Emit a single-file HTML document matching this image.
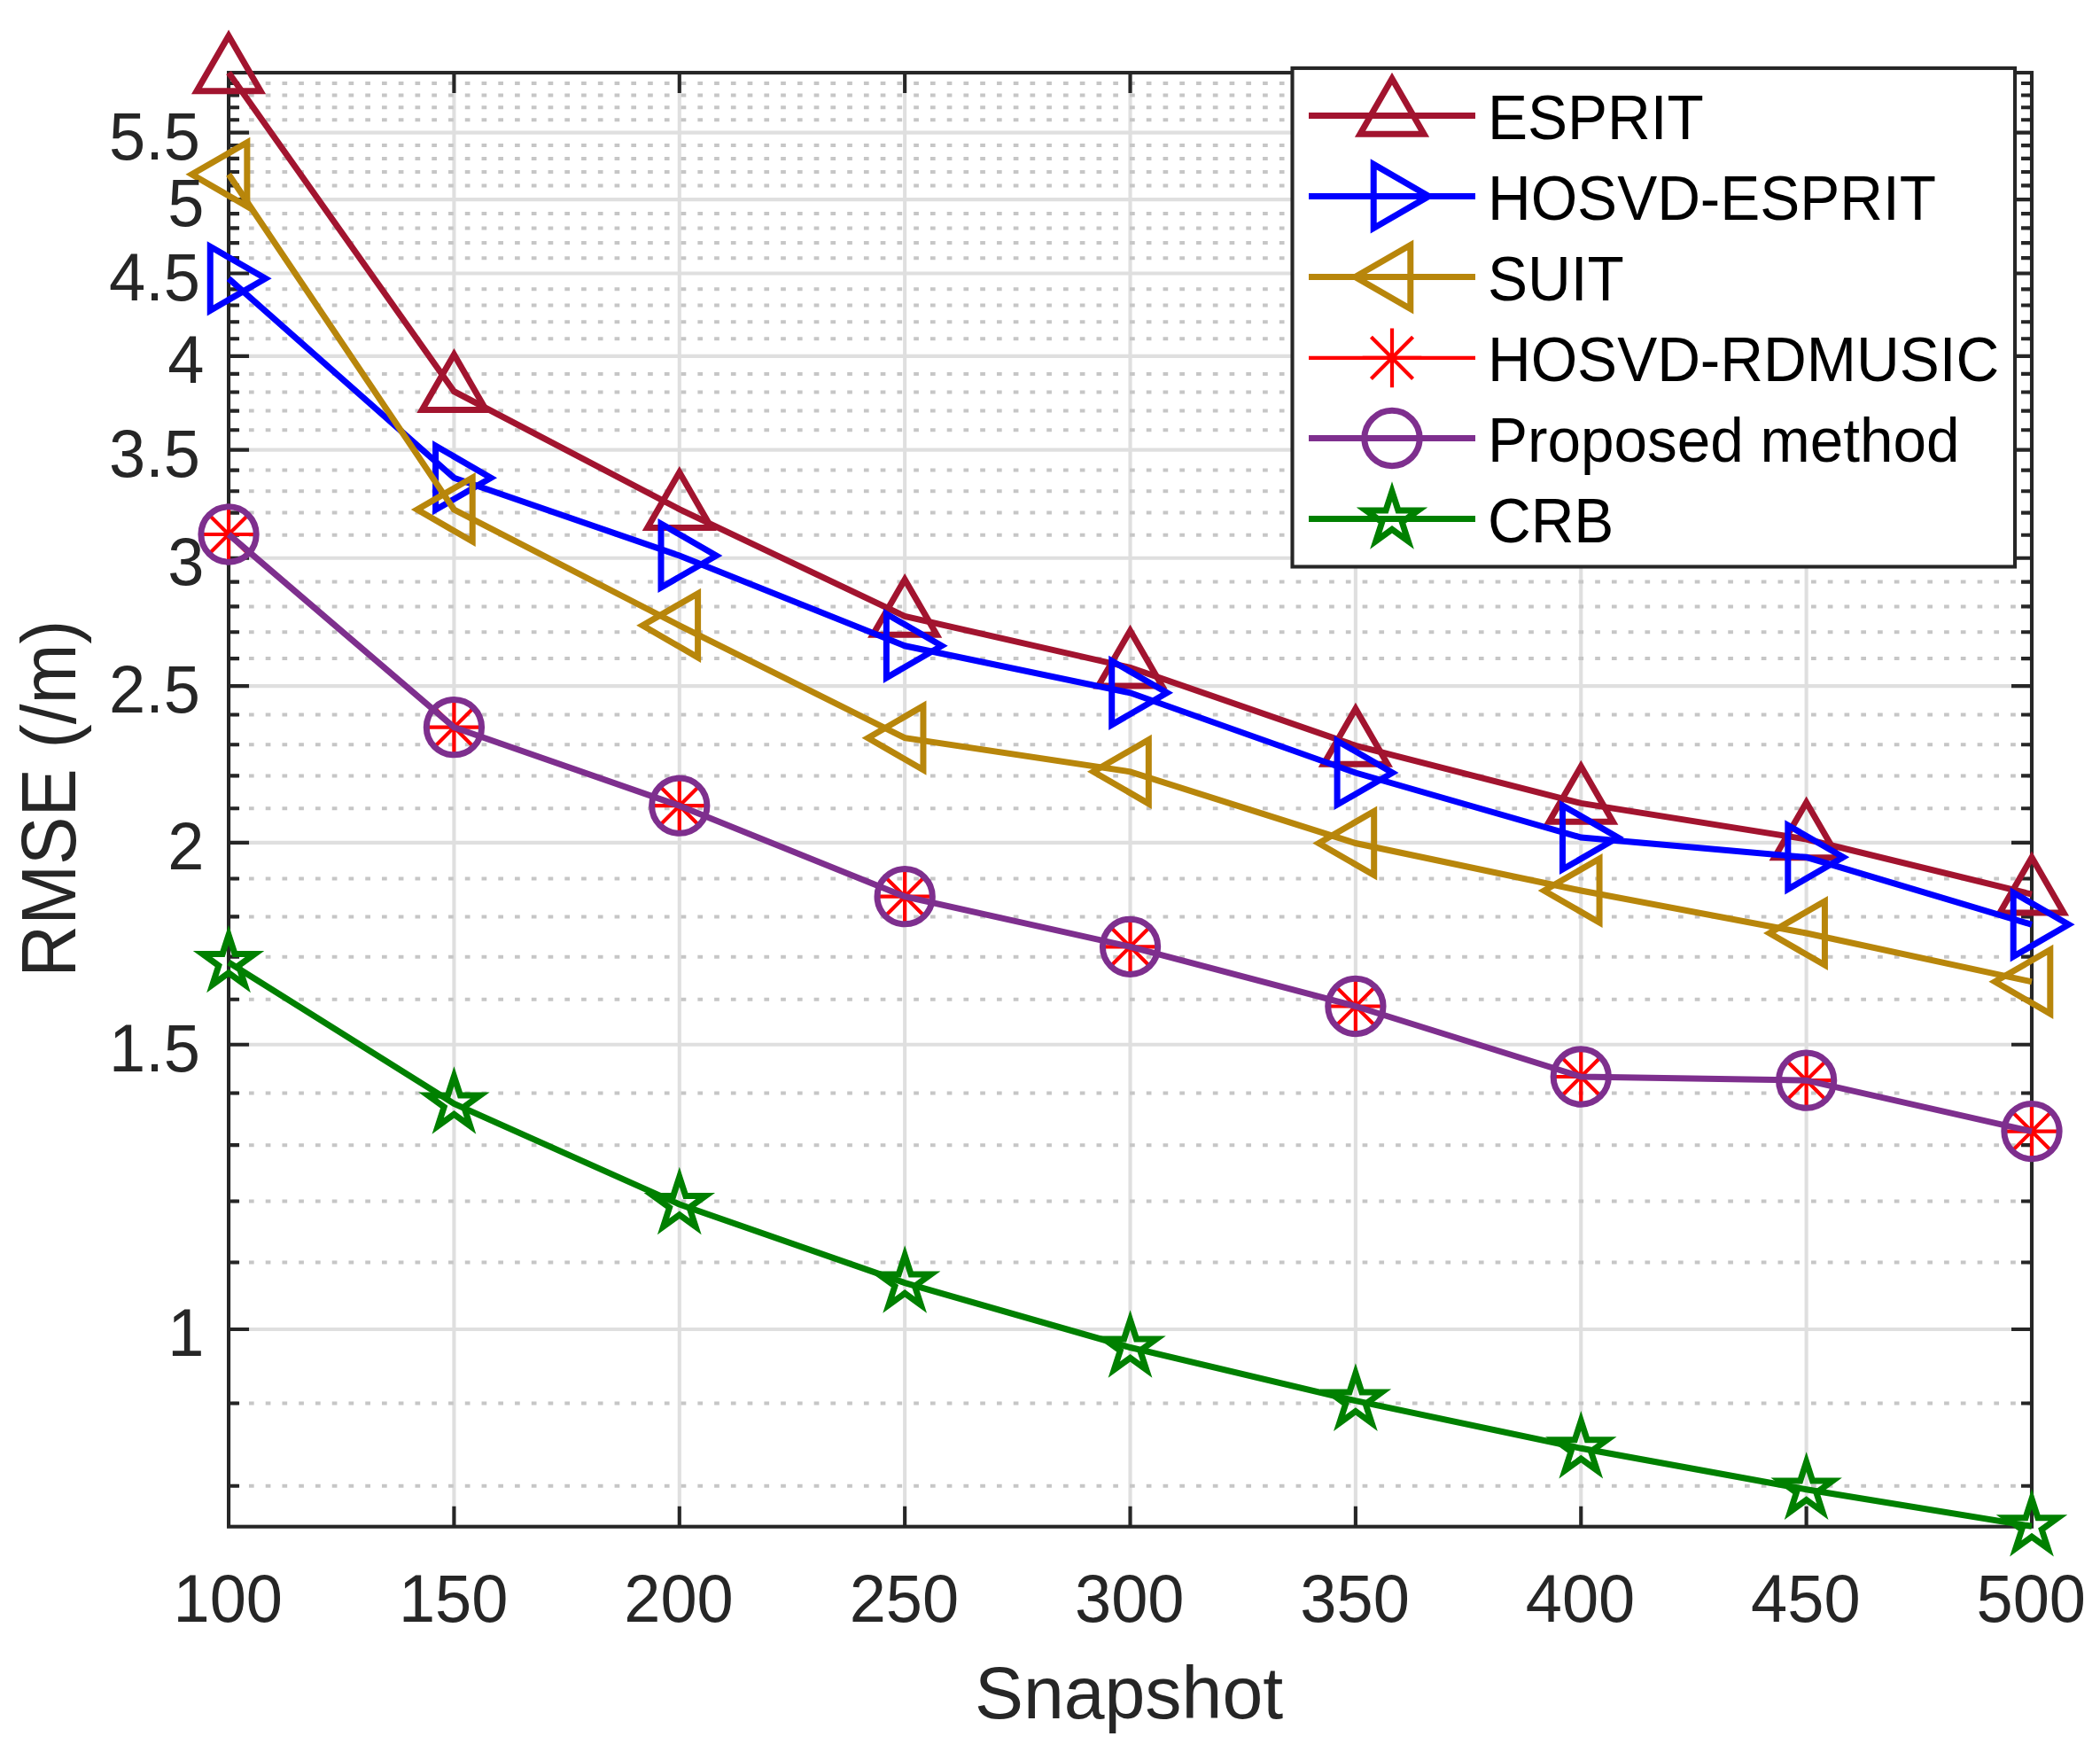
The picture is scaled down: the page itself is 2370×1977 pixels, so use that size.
<!DOCTYPE html>
<html lang="en">
<head>
<meta charset="utf-8">
<title>RMSE versus Snapshot</title>
<style>
html,body{margin:0;padding:0;background:#fff;}
body{width:2370px;height:1977px;overflow:hidden;}
svg{display:block;}
text{white-space:pre;}
</style>
</head>
<body>
<svg width="2370" height="1977" viewBox="0 0 2370 1977">
<rect width="2370" height="1977" fill="#fff"/>
<g stroke="#dfdfdf" stroke-width="4.1" fill="none">
<path d="M512.42 82V1722.7"/>
<path d="M766.79 82V1722.7"/>
<path d="M1021.16 82V1722.7"/>
<path d="M1275.53 82V1722.7"/>
<path d="M1529.89 82V1722.7"/>
<path d="M1784.26 82V1722.7"/>
<path d="M2038.63 82V1722.7"/>
<path d="M258.05 1500H2293"/>
<path d="M258.05 1178.81H2293"/>
<path d="M258.05 950.92H2293"/>
<path d="M258.05 774.16H2293"/>
<path d="M258.05 629.73H2293"/>
<path d="M258.05 507.62H2293"/>
<path d="M258.05 401.84H2293"/>
<path d="M258.05 308.54H2293"/>
<path d="M258.05 225.08H2293"/>
<path d="M258.05 149.58H2293"/>
</g>
<g stroke="#c6c6c6" stroke-width="4" fill="none" stroke-dasharray="5.7 13.056">
<path d="M262.2 1676.76H2293"/>
<path d="M262.2 1583.46H2293"/>
<path d="M262.2 1424.5H2293"/>
<path d="M262.2 1355.57H2293"/>
<path d="M262.2 1292.17H2293"/>
<path d="M262.2 1233.46H2293"/>
<path d="M262.2 1127.69H2293"/>
<path d="M262.2 1079.66H2293"/>
<path d="M262.2 1034.38H2293"/>
<path d="M262.2 991.55H2293"/>
<path d="M262.2 912.27H2293"/>
<path d="M262.2 875.42H2293"/>
<path d="M262.2 840.21H2293"/>
<path d="M262.2 806.49H2293"/>
<path d="M262.2 743.09H2293"/>
<path d="M262.2 713.19H2293"/>
<path d="M262.2 684.38H2293"/>
<path d="M262.2 656.59H2293"/>
<path d="M262.2 603.76H2293"/>
<path d="M262.2 578.61H2293"/>
<path d="M262.2 554.23H2293"/>
<path d="M262.2 530.58H2293"/>
<path d="M262.2 485.3H2293"/>
<path d="M262.2 463.6H2293"/>
<path d="M262.2 442.47H2293"/>
<path d="M262.2 421.9H2293"/>
<path d="M262.2 382.28H2293"/>
<path d="M262.2 363.19H2293"/>
<path d="M262.2 344.55H2293"/>
<path d="M262.2 326.34H2293"/>
<path d="M262.2 291.13H2293"/>
<path d="M262.2 274.09H2293"/>
<path d="M262.2 257.42H2293"/>
<path d="M262.2 241.08H2293"/>
<path d="M262.2 209.39H2293"/>
<path d="M262.2 194.01H2293"/>
<path d="M262.2 178.92H2293"/>
<path d="M262.2 164.11H2293"/>
<path d="M262.2 135.31H2293"/>
<path d="M262.2 121.28H2293"/>
<path d="M262.2 107.51H2293"/>
<path d="M262.2 93.97H2293"/>
</g>
<g stroke="#262626" stroke-width="4.1" fill="none">
<rect x="258.05" y="82" width="2034.95" height="1640.7"/>
<path d="M512.42 1722.7V1699.7 M512.42 82V105"/>
<path d="M766.79 1722.7V1699.7 M766.79 82V105"/>
<path d="M1021.16 1722.7V1699.7 M1021.16 82V105"/>
<path d="M1275.53 1722.7V1699.7 M1275.53 82V105"/>
<path d="M1529.89 1722.7V1699.7 M1529.89 82V105"/>
<path d="M1784.26 1722.7V1699.7 M1784.26 82V105"/>
<path d="M2038.63 1722.7V1699.7 M2038.63 82V105"/>
<path d="M258.05 1500H281.05 M2293 1500H2270"/>
<path d="M258.05 1178.81H281.05 M2293 1178.81H2270"/>
<path d="M258.05 950.92H281.05 M2293 950.92H2270"/>
<path d="M258.05 774.16H281.05 M2293 774.16H2270"/>
<path d="M258.05 629.73H281.05 M2293 629.73H2270"/>
<path d="M258.05 507.62H281.05 M2293 507.62H2270"/>
<path d="M258.05 401.84H281.05 M2293 401.84H2270"/>
<path d="M258.05 308.54H281.05 M2293 308.54H2270"/>
<path d="M258.05 225.08H281.05 M2293 225.08H2270"/>
<path d="M258.05 149.58H281.05 M2293 149.58H2270"/>
<path d="M258.05 1676.76H270.05 M2293 1676.76H2281 M258.05 1583.46H270.05 M2293 1583.46H2281 M258.05 1424.5H270.05 M2293 1424.5H2281 M258.05 1355.57H270.05 M2293 1355.57H2281 M258.05 1292.17H270.05 M2293 1292.17H2281 M258.05 1233.46H270.05 M2293 1233.46H2281 M258.05 1127.69H270.05 M2293 1127.69H2281 M258.05 1079.66H270.05 M2293 1079.66H2281 M258.05 1034.38H270.05 M2293 1034.38H2281 M258.05 991.55H270.05 M2293 991.55H2281 M258.05 912.27H270.05 M2293 912.27H2281 M258.05 875.42H270.05 M2293 875.42H2281 M258.05 840.21H270.05 M2293 840.21H2281 M258.05 806.49H270.05 M2293 806.49H2281 M258.05 743.09H270.05 M2293 743.09H2281 M258.05 713.19H270.05 M2293 713.19H2281 M258.05 684.38H270.05 M2293 684.38H2281 M258.05 656.59H270.05 M2293 656.59H2281 M258.05 603.76H270.05 M2293 603.76H2281 M258.05 578.61H270.05 M2293 578.61H2281 M258.05 554.23H270.05 M2293 554.23H2281 M258.05 530.58H270.05 M2293 530.58H2281 M258.05 485.3H270.05 M2293 485.3H2281 M258.05 463.6H270.05 M2293 463.6H2281 M258.05 442.47H270.05 M2293 442.47H2281 M258.05 421.9H270.05 M2293 421.9H2281 M258.05 382.28H270.05 M2293 382.28H2281 M258.05 363.19H270.05 M2293 363.19H2281 M258.05 344.55H270.05 M2293 344.55H2281 M258.05 326.34H270.05 M2293 326.34H2281 M258.05 291.13H270.05 M2293 291.13H2281 M258.05 274.09H270.05 M2293 274.09H2281 M258.05 257.42H270.05 M2293 257.42H2281 M258.05 241.08H270.05 M2293 241.08H2281 M258.05 209.39H270.05 M2293 209.39H2281 M258.05 194.01H270.05 M2293 194.01H2281 M258.05 178.92H270.05 M2293 178.92H2281 M258.05 164.11H270.05 M2293 164.11H2281 M258.05 135.31H270.05 M2293 135.31H2281 M258.05 121.28H270.05 M2293 121.28H2281 M258.05 107.51H270.05 M2293 107.51H2281 M258.05 93.97H270.05 M2293 93.97H2281"/>
</g>
<g>
<polyline points="258.05,82 512.42,441.7 766.79,574.6 1021.16,695.5 1275.53,753.3 1529.89,841.4 1784.26,906.4 2038.63,947 2293,1009.2" fill="none" stroke="#a2142f" stroke-width="7.0" stroke-linejoin="miter"/>
<path d="M258.05 40.4 L294.08 102.8 L222.02 102.8Z" fill="none" stroke="#a2142f" stroke-width="7.0"/>
<path d="M512.42 400.1 L548.45 462.5 L476.39 462.5Z" fill="none" stroke="#a2142f" stroke-width="7.0"/>
<path d="M766.79 533 L802.81 595.4 L730.76 595.4Z" fill="none" stroke="#a2142f" stroke-width="7.0"/>
<path d="M1021.16 653.9 L1057.18 716.3 L985.13 716.3Z" fill="none" stroke="#a2142f" stroke-width="7.0"/>
<path d="M1275.53 711.7 L1311.55 774.1 L1239.5 774.1Z" fill="none" stroke="#a2142f" stroke-width="7.0"/>
<path d="M1529.89 799.8 L1565.92 862.2 L1493.87 862.2Z" fill="none" stroke="#a2142f" stroke-width="7.0"/>
<path d="M1784.26 864.8 L1820.29 927.2 L1748.24 927.2Z" fill="none" stroke="#a2142f" stroke-width="7.0"/>
<path d="M2038.63 905.4 L2074.66 967.8 L2002.6 967.8Z" fill="none" stroke="#a2142f" stroke-width="7.0"/>
<path d="M2293 967.6 L2329.03 1030 L2256.97 1030Z" fill="none" stroke="#a2142f" stroke-width="7.0"/>
</g>
<g>
<polyline points="258.05,314.3 512.42,539.2 766.79,627 1021.16,728.8 1275.53,781.8 1529.89,872 1784.26,945 2038.63,967.3 2293,1043.3" fill="none" stroke="#0000ff" stroke-width="7.0" stroke-linejoin="miter"/>
<path d="M299.65 314.3 L237.25 350.33 L237.25 278.27Z" fill="none" stroke="#0000ff" stroke-width="7.0"/>
<path d="M554.02 539.2 L491.62 575.23 L491.62 503.17Z" fill="none" stroke="#0000ff" stroke-width="7.0"/>
<path d="M808.39 627 L745.99 663.03 L745.99 590.97Z" fill="none" stroke="#0000ff" stroke-width="7.0"/>
<path d="M1062.76 728.8 L1000.36 764.83 L1000.36 692.77Z" fill="none" stroke="#0000ff" stroke-width="7.0"/>
<path d="M1317.12 781.8 L1254.73 817.83 L1254.73 745.77Z" fill="none" stroke="#0000ff" stroke-width="7.0"/>
<path d="M1571.49 872 L1509.09 908.03 L1509.09 835.97Z" fill="none" stroke="#0000ff" stroke-width="7.0"/>
<path d="M1825.86 945 L1763.46 981.03 L1763.46 908.97Z" fill="none" stroke="#0000ff" stroke-width="7.0"/>
<path d="M2080.23 967.3 L2017.83 1003.33 L2017.83 931.27Z" fill="none" stroke="#0000ff" stroke-width="7.0"/>
<path d="M2334.6 1043.3 L2272.2 1079.33 L2272.2 1007.27Z" fill="none" stroke="#0000ff" stroke-width="7.0"/>
</g>
<g>
<polyline points="258.05,196.8 512.42,575 766.79,705.8 1021.16,832.7 1275.53,870.8 1529.89,951.5 1784.26,1005 2038.63,1053 2293,1107.8" fill="none" stroke="#b8860b" stroke-width="7.0" stroke-linejoin="miter"/>
<path d="M216.45 196.8 L278.85 160.77 L278.85 232.83Z" fill="none" stroke="#b8860b" stroke-width="7.0"/>
<path d="M470.82 575 L533.22 538.97 L533.22 611.03Z" fill="none" stroke="#b8860b" stroke-width="7.0"/>
<path d="M725.19 705.8 L787.59 669.77 L787.59 741.83Z" fill="none" stroke="#b8860b" stroke-width="7.0"/>
<path d="M979.56 832.7 L1041.96 796.67 L1041.96 868.73Z" fill="none" stroke="#b8860b" stroke-width="7.0"/>
<path d="M1233.93 870.8 L1296.33 834.77 L1296.33 906.83Z" fill="none" stroke="#b8860b" stroke-width="7.0"/>
<path d="M1488.29 951.5 L1550.69 915.47 L1550.69 987.53Z" fill="none" stroke="#b8860b" stroke-width="7.0"/>
<path d="M1742.66 1005 L1805.06 968.97 L1805.06 1041.03Z" fill="none" stroke="#b8860b" stroke-width="7.0"/>
<path d="M1997.03 1053 L2059.43 1016.97 L2059.43 1089.03Z" fill="none" stroke="#b8860b" stroke-width="7.0"/>
<path d="M2251.4 1107.8 L2313.8 1071.77 L2313.8 1143.83Z" fill="none" stroke="#b8860b" stroke-width="7.0"/>
</g>
<g>
<polyline points="258.05,603 512.42,820.7 766.79,909.2 1021.16,1011.7 1275.53,1068.3 1529.89,1135.5 1784.26,1215 2038.63,1219.2 2293,1276.6" fill="none" stroke="#ff0000" stroke-width="4.2" stroke-linejoin="miter"/>
<path d="M224.75 603H291.35 M258.05 569.7V636.3 M234.5 579.45L281.6 626.55 M234.5 626.55L281.6 579.45" fill="none" stroke="#ff0000" stroke-width="4.2"/>
<path d="M479.12 820.7H545.72 M512.42 787.4V854 M488.87 797.15L535.97 844.25 M488.87 844.25L535.97 797.15" fill="none" stroke="#ff0000" stroke-width="4.2"/>
<path d="M733.49 909.2H800.09 M766.79 875.9V942.5 M743.24 885.65L790.33 932.75 M743.24 932.75L790.33 885.65" fill="none" stroke="#ff0000" stroke-width="4.2"/>
<path d="M987.86 1011.7H1054.46 M1021.16 978.4V1045 M997.61 988.15L1044.7 1035.25 M997.61 1035.25L1044.7 988.15" fill="none" stroke="#ff0000" stroke-width="4.2"/>
<path d="M1242.23 1068.3H1308.83 M1275.53 1035V1101.6 M1251.98 1044.75L1299.07 1091.85 M1251.98 1091.85L1299.07 1044.75" fill="none" stroke="#ff0000" stroke-width="4.2"/>
<path d="M1496.59 1135.5H1563.19 M1529.89 1102.2V1168.8 M1506.35 1111.95L1553.44 1159.05 M1506.35 1159.05L1553.44 1111.95" fill="none" stroke="#ff0000" stroke-width="4.2"/>
<path d="M1750.96 1215H1817.56 M1784.26 1181.7V1248.3 M1760.72 1191.45L1807.81 1238.55 M1760.72 1238.55L1807.81 1191.45" fill="none" stroke="#ff0000" stroke-width="4.2"/>
<path d="M2005.33 1219.2H2071.93 M2038.63 1185.9V1252.5 M2015.08 1195.65L2062.18 1242.75 M2015.08 1242.75L2062.18 1195.65" fill="none" stroke="#ff0000" stroke-width="4.2"/>
<path d="M2259.7 1276.6H2326.3 M2293 1243.3V1309.9 M2269.45 1253.05L2316.55 1300.15 M2269.45 1300.15L2316.55 1253.05" fill="none" stroke="#ff0000" stroke-width="4.2"/>
</g>
<g>
<polyline points="258.05,603 512.42,820.7 766.79,909.2 1021.16,1011.7 1275.53,1068.3 1529.89,1135.5 1784.26,1215 2038.63,1219.2 2293,1276.6" fill="none" stroke="#7e2f8e" stroke-width="7.0" stroke-linejoin="miter"/>
<circle cx="258.05" cy="603" r="31.15" fill="none" stroke="#7e2f8e" stroke-width="7.0"/>
<circle cx="512.42" cy="820.7" r="31.15" fill="none" stroke="#7e2f8e" stroke-width="7.0"/>
<circle cx="766.79" cy="909.2" r="31.15" fill="none" stroke="#7e2f8e" stroke-width="7.0"/>
<circle cx="1021.16" cy="1011.7" r="31.15" fill="none" stroke="#7e2f8e" stroke-width="7.0"/>
<circle cx="1275.53" cy="1068.3" r="31.15" fill="none" stroke="#7e2f8e" stroke-width="7.0"/>
<circle cx="1529.89" cy="1135.5" r="31.15" fill="none" stroke="#7e2f8e" stroke-width="7.0"/>
<circle cx="1784.26" cy="1215" r="31.15" fill="none" stroke="#7e2f8e" stroke-width="7.0"/>
<circle cx="2038.63" cy="1219.2" r="31.15" fill="none" stroke="#7e2f8e" stroke-width="7.0"/>
<circle cx="2293" cy="1276.6" r="31.15" fill="none" stroke="#7e2f8e" stroke-width="7.0"/>
</g>
<g>
<polyline points="258.05,1086 512.42,1245.5 766.79,1359 1021.16,1447.6 1275.53,1520.5 1529.89,1580.7 1784.26,1634.3 2038.63,1680.7 2293,1722.3" fill="none" stroke="#008000" stroke-width="7.0" stroke-linejoin="miter"/>
<path d="M258.05 1055 L265.01 1076.42 L287.53 1076.42 L269.31 1089.66 L276.27 1111.08 L258.05 1097.84 L239.83 1111.08 L246.79 1089.66 L228.57 1076.42 L251.09 1076.42Z" fill="none" stroke="#008000" stroke-width="7.0"/>
<path d="M512.42 1214.5 L519.38 1235.92 L541.9 1235.92 L523.68 1249.16 L530.64 1270.58 L512.42 1257.34 L494.2 1270.58 L501.16 1249.16 L482.94 1235.92 L505.46 1235.92Z" fill="none" stroke="#008000" stroke-width="7.0"/>
<path d="M766.79 1328 L773.75 1349.42 L796.27 1349.42 L778.05 1362.66 L785.01 1384.08 L766.79 1370.84 L748.57 1384.08 L755.53 1362.66 L737.3 1349.42 L759.83 1349.42Z" fill="none" stroke="#008000" stroke-width="7.0"/>
<path d="M1021.16 1416.6 L1028.12 1438.02 L1050.64 1438.02 L1032.42 1451.26 L1039.38 1472.68 L1021.16 1459.44 L1002.93 1472.68 L1009.89 1451.26 L991.67 1438.02 L1014.2 1438.02Z" fill="none" stroke="#008000" stroke-width="7.0"/>
<path d="M1275.53 1489.5 L1282.48 1510.92 L1305.01 1510.92 L1286.79 1524.16 L1293.75 1545.58 L1275.53 1532.34 L1257.3 1545.58 L1264.26 1524.16 L1246.04 1510.92 L1268.57 1510.92Z" fill="none" stroke="#008000" stroke-width="7.0"/>
<path d="M1529.89 1549.7 L1536.85 1571.12 L1559.38 1571.12 L1541.16 1584.36 L1548.12 1605.78 L1529.89 1592.54 L1511.67 1605.78 L1518.63 1584.36 L1500.41 1571.12 L1522.93 1571.12Z" fill="none" stroke="#008000" stroke-width="7.0"/>
<path d="M1784.26 1603.3 L1791.22 1624.72 L1813.75 1624.72 L1795.52 1637.96 L1802.48 1659.38 L1784.26 1646.14 L1766.04 1659.38 L1773 1637.96 L1754.78 1624.72 L1777.3 1624.72Z" fill="none" stroke="#008000" stroke-width="7.0"/>
<path d="M2038.63 1649.7 L2045.59 1671.12 L2068.11 1671.12 L2049.89 1684.36 L2056.85 1705.78 L2038.63 1692.54 L2020.41 1705.78 L2027.37 1684.36 L2009.15 1671.12 L2031.67 1671.12Z" fill="none" stroke="#008000" stroke-width="7.0"/>
<path d="M2293 1691.3 L2299.96 1712.72 L2322.48 1712.72 L2304.26 1725.96 L2311.22 1747.38 L2293 1734.14 L2274.78 1747.38 L2281.74 1725.96 L2263.52 1712.72 L2286.04 1712.72Z" fill="none" stroke="#008000" stroke-width="7.0"/>
</g>
<g font-family="'Liberation Sans', Arial, Helvetica, sans-serif" font-size="74.0" fill="#262626">
<text transform="translate(257.25 1829.8) scale(1 1.02)" text-anchor="middle">100</text>
<text transform="translate(511.62 1829.8) scale(1 1.02)" text-anchor="middle">150</text>
<text transform="translate(765.99 1829.8) scale(1 1.02)" text-anchor="middle">200</text>
<text transform="translate(1020.36 1829.8) scale(1 1.02)" text-anchor="middle">250</text>
<text transform="translate(1274.73 1829.8) scale(1 1.02)" text-anchor="middle">300</text>
<text transform="translate(1529.09 1829.8) scale(1 1.02)" text-anchor="middle">350</text>
<text transform="translate(1783.46 1829.8) scale(1 1.02)" text-anchor="middle">400</text>
<text transform="translate(2037.83 1829.8) scale(1 1.02)" text-anchor="middle">450</text>
<text transform="translate(2292.2 1829.8) scale(1 1.02)" text-anchor="middle">500</text>
<text transform="translate(230.3 1530.3) scale(1 1.02)" text-anchor="end">1</text>
<text transform="translate(225.9 1209.11) scale(1 1.02)" text-anchor="end">1.5</text>
<text transform="translate(230.3 981.22) scale(1 1.02)" text-anchor="end">2</text>
<text transform="translate(225.9 804.46) scale(1 1.02)" text-anchor="end">2.5</text>
<text transform="translate(230.3 660.03) scale(1 1.02)" text-anchor="end">3</text>
<text transform="translate(225.9 537.92) scale(1 1.02)" text-anchor="end">3.5</text>
<text transform="translate(230.3 432.14) scale(1 1.02)" text-anchor="end">4</text>
<text transform="translate(225.9 338.84) scale(1 1.02)" text-anchor="end">4.5</text>
<text transform="translate(230.3 255.38) scale(1 1.02)" text-anchor="end">5</text>
<text transform="translate(225.9 179.88) scale(1 1.02)" text-anchor="end">5.5</text>
</g>
<g font-family="'Liberation Sans', Arial, Helvetica, sans-serif" font-size="82.4" fill="#262626">
<text transform="translate(1274.03 1939.3) scale(1 1.02)" text-anchor="middle">Snapshot</text>
<text transform="translate(85.3 901.15) rotate(-90) scale(0.99 1.05)" text-anchor="middle">RMSE (/m)</text>
</g>
<rect x="1458.5" y="76.9" width="815.5" height="562.6" fill="#fff" stroke="#262626" stroke-width="4.1"/>
<g font-family="'Liberation Sans', Arial, Helvetica, sans-serif" font-size="67.5" fill="#000">
<path d="M1477 130.4H1665" stroke="#a2142f" stroke-width="7.0" fill="none"/>
<path d="M1571 88.8 L1607.03 151.2 L1534.97 151.2Z" fill="none" stroke="#a2142f" stroke-width="7.0"/>
<text transform="translate(1678.9 156.6) scale(1 1.05)" text-anchor="start">ESPRIT</text>
<path d="M1477 221.4H1665" stroke="#0000ff" stroke-width="7.0" fill="none"/>
<path d="M1612.6 221.4 L1550.2 257.43 L1550.2 185.37Z" fill="none" stroke="#0000ff" stroke-width="7.0"/>
<text transform="translate(1678.9 247.6) scale(1 1.05)" text-anchor="start">HOSVD-ESPRIT</text>
<path d="M1477 312.5H1665" stroke="#b8860b" stroke-width="7.0" fill="none"/>
<path d="M1529.4 312.5 L1591.8 276.47 L1591.8 348.53Z" fill="none" stroke="#b8860b" stroke-width="7.0"/>
<text transform="translate(1678.9 338.7) scale(1 1.05)" text-anchor="start">SUIT</text>
<path d="M1477 403.9H1665" stroke="#ff0000" stroke-width="4.2" fill="none"/>
<path d="M1537.7 403.9H1604.3 M1571 370.6V437.2 M1547.45 380.35L1594.55 427.45 M1547.45 427.45L1594.55 380.35" fill="none" stroke="#ff0000" stroke-width="4.2"/>
<text transform="translate(1678.9 430.1) scale(1 1.05)" text-anchor="start">HOSVD-RDMUSIC</text>
<path d="M1477 494.5H1665" stroke="#7e2f8e" stroke-width="7.0" fill="none"/>
<circle cx="1571" cy="494.5" r="31.15" fill="none" stroke="#7e2f8e" stroke-width="7.0"/>
<text transform="translate(1678.9 520.7) scale(1 1.05)" text-anchor="start">Proposed method</text>
<path d="M1477 585.5H1665" stroke="#008000" stroke-width="7.0" fill="none"/>
<path d="M1571 554.5 L1577.96 575.92 L1600.48 575.92 L1582.26 589.16 L1589.22 610.58 L1571 597.34 L1552.78 610.58 L1559.74 589.16 L1541.52 575.92 L1564.04 575.92Z" fill="none" stroke="#008000" stroke-width="7.0"/>
<text transform="translate(1678.9 611.7) scale(1 1.05)" text-anchor="start">CRB</text>
</g>
</svg>
</body>
</html>
